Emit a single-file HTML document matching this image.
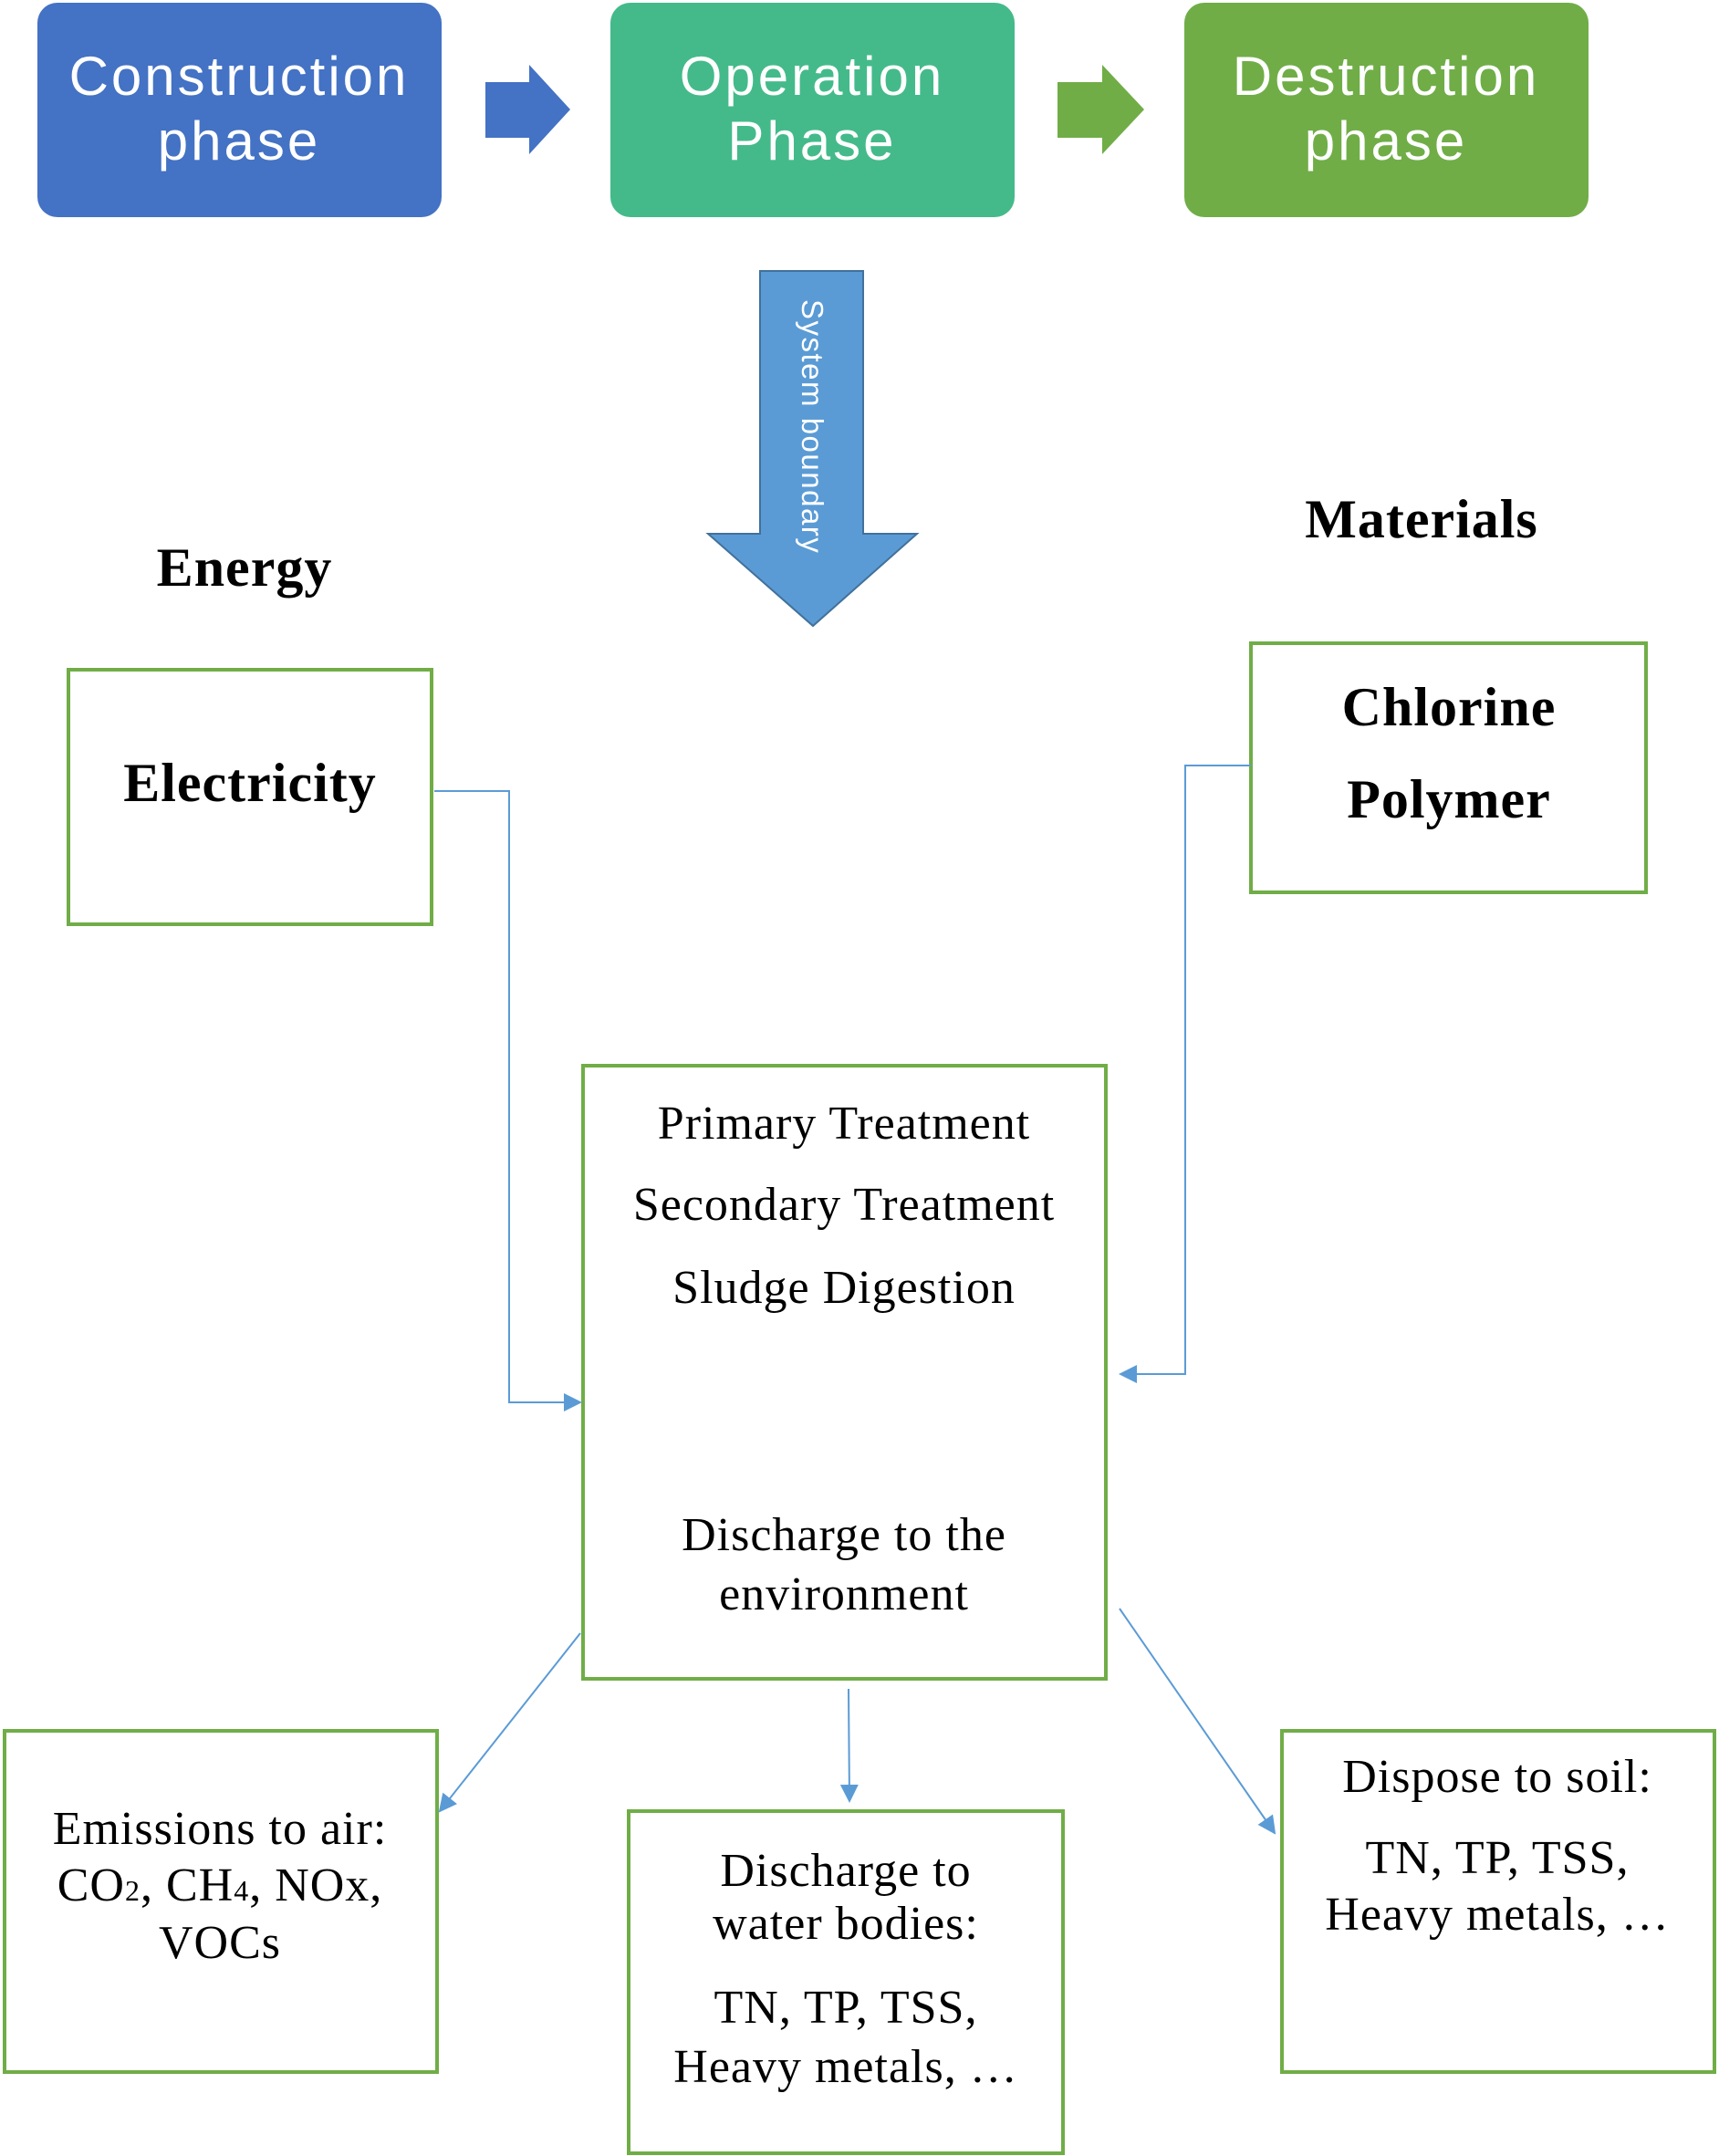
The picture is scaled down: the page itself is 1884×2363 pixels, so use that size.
<!DOCTYPE html>
<html><head><meta charset="utf-8"><style>
html,body{margin:0;padding:0;background:#fff}
svg{display:block}
.s{font-family:"Liberation Sans","DejaVu Sans",sans-serif;fill:#fff;font-size:60px;letter-spacing:3px}
.t{font-family:"Liberation Serif",serif;fill:#000;font-size:52px;letter-spacing:1px}
.b{font-family:"Liberation Serif",serif;fill:#000;font-size:60px;font-weight:bold;letter-spacing:1px}
</style></head><body>
<svg width="1884" height="2363" viewBox="0 0 1884 2363" xmlns="http://www.w3.org/2000/svg">
<defs>
<marker id="m" viewBox="0 0 10 10" refX="9" refY="5" markerWidth="20" markerHeight="20" orient="auto" markerUnits="userSpaceOnUse"><path d="M0,0L10,5L0,10z" fill="#5B9BD5"/></marker></defs>
<rect x="41" y="3" width="443" height="235" rx="22" fill="#4472C4"/>
<rect x="669" y="3" width="443" height="235" rx="22" fill="#44BA8A"/>
<rect x="1298" y="3" width="443" height="235" rx="22" fill="#70AD47"/>
<text class="s" x="262" y="104" text-anchor="middle">Construction</text>
<text class="s" x="262" y="175" text-anchor="middle">phase</text>
<text class="s" x="890" y="104" text-anchor="middle">Operation</text>
<text class="s" x="890" y="175" text-anchor="middle">Phase</text>
<text class="s" x="1519" y="104" text-anchor="middle">Destruction</text>
<text class="s" x="1519" y="175" text-anchor="middle">phase</text>
<path d="M532,90H580V71L625,120L580,169V151H532Z" fill="#4472C4"/>
<path d="M1159,90H1208V71L1254,120L1208,169V151H1159Z" fill="#70AD47"/>
<path d="M833,297H946V585H1005L891,686L776,585H833Z" fill="#5B9BD5" stroke="#41719C" stroke-width="2"/>
<text x="0" y="0" transform="translate(879,328) rotate(90)" font-family="Liberation Sans,sans-serif" font-size="33" letter-spacing="1.5" fill="#fff">System boundary</text>
<text class="b" x="268" y="642" text-anchor="middle">Energy</text>
<text class="b" x="1558" y="589" text-anchor="middle">Materials</text>
<g fill="none" stroke="#70AD47" stroke-width="4">
<rect x="75" y="734" width="398" height="279"/>
<rect x="1371" y="705" width="433" height="273"/>
<rect x="639" y="1168" width="573" height="672"/>
<rect x="5" y="1897" width="474" height="374"/>
<rect x="689" y="1985" width="476" height="375"/>
<rect x="1405" y="1897" width="474" height="374"/>
</g>
<text class="b" x="274" y="878" text-anchor="middle">Electricity</text>
<text class="b" x="1588" y="795" text-anchor="middle">Chlorine</text>
<text class="b" x="1588" y="896" text-anchor="middle">Polymer</text>
<g class="t" text-anchor="middle">
<text x="925" y="1248">Primary Treatment</text>
<text x="925" y="1337">Secondary Treatment</text>
<text x="925" y="1428">Sludge Digestion</text>
<text x="925" y="1699">Discharge to the</text>
<text x="925" y="1764">environment</text>
<text x="241" y="2021">Emissions to air:</text>
<text x="241" y="2083">CO<tspan font-size="32">2</tspan>, CH<tspan font-size="32">4</tspan>, NOx,</text>
<text x="241" y="2146">VOCs</text>
<text x="927" y="2067">Discharge to</text>
<text x="927" y="2125">water bodies:</text>
<text x="927" y="2217">TN, TP, TSS,</text>
<text x="927" y="2282">Heavy metals, …</text>
<text x="1641" y="1964">Dispose to soil:</text>
<text x="1641" y="2053">TN, TP, TSS,</text>
<text x="1641" y="2115">Heavy metals, …</text>
</g>
<g fill="none" stroke="#5B9BD5" stroke-width="2">
<polyline points="476,867 558,867 558,1537 636,1537" marker-end="url(#m)"/>
<polyline points="1371,839 1299,839 1299,1506 1228,1506" marker-end="url(#m)"/>
<line x1="636" y1="1790" x2="482" y2="1985" marker-end="url(#m)"/>
<line x1="930" y1="1851" x2="931" y2="1974" marker-end="url(#m)"/>
<line x1="1227" y1="1763" x2="1397" y2="2009" marker-end="url(#m)"/>
</g>
</svg>
</body></html>
